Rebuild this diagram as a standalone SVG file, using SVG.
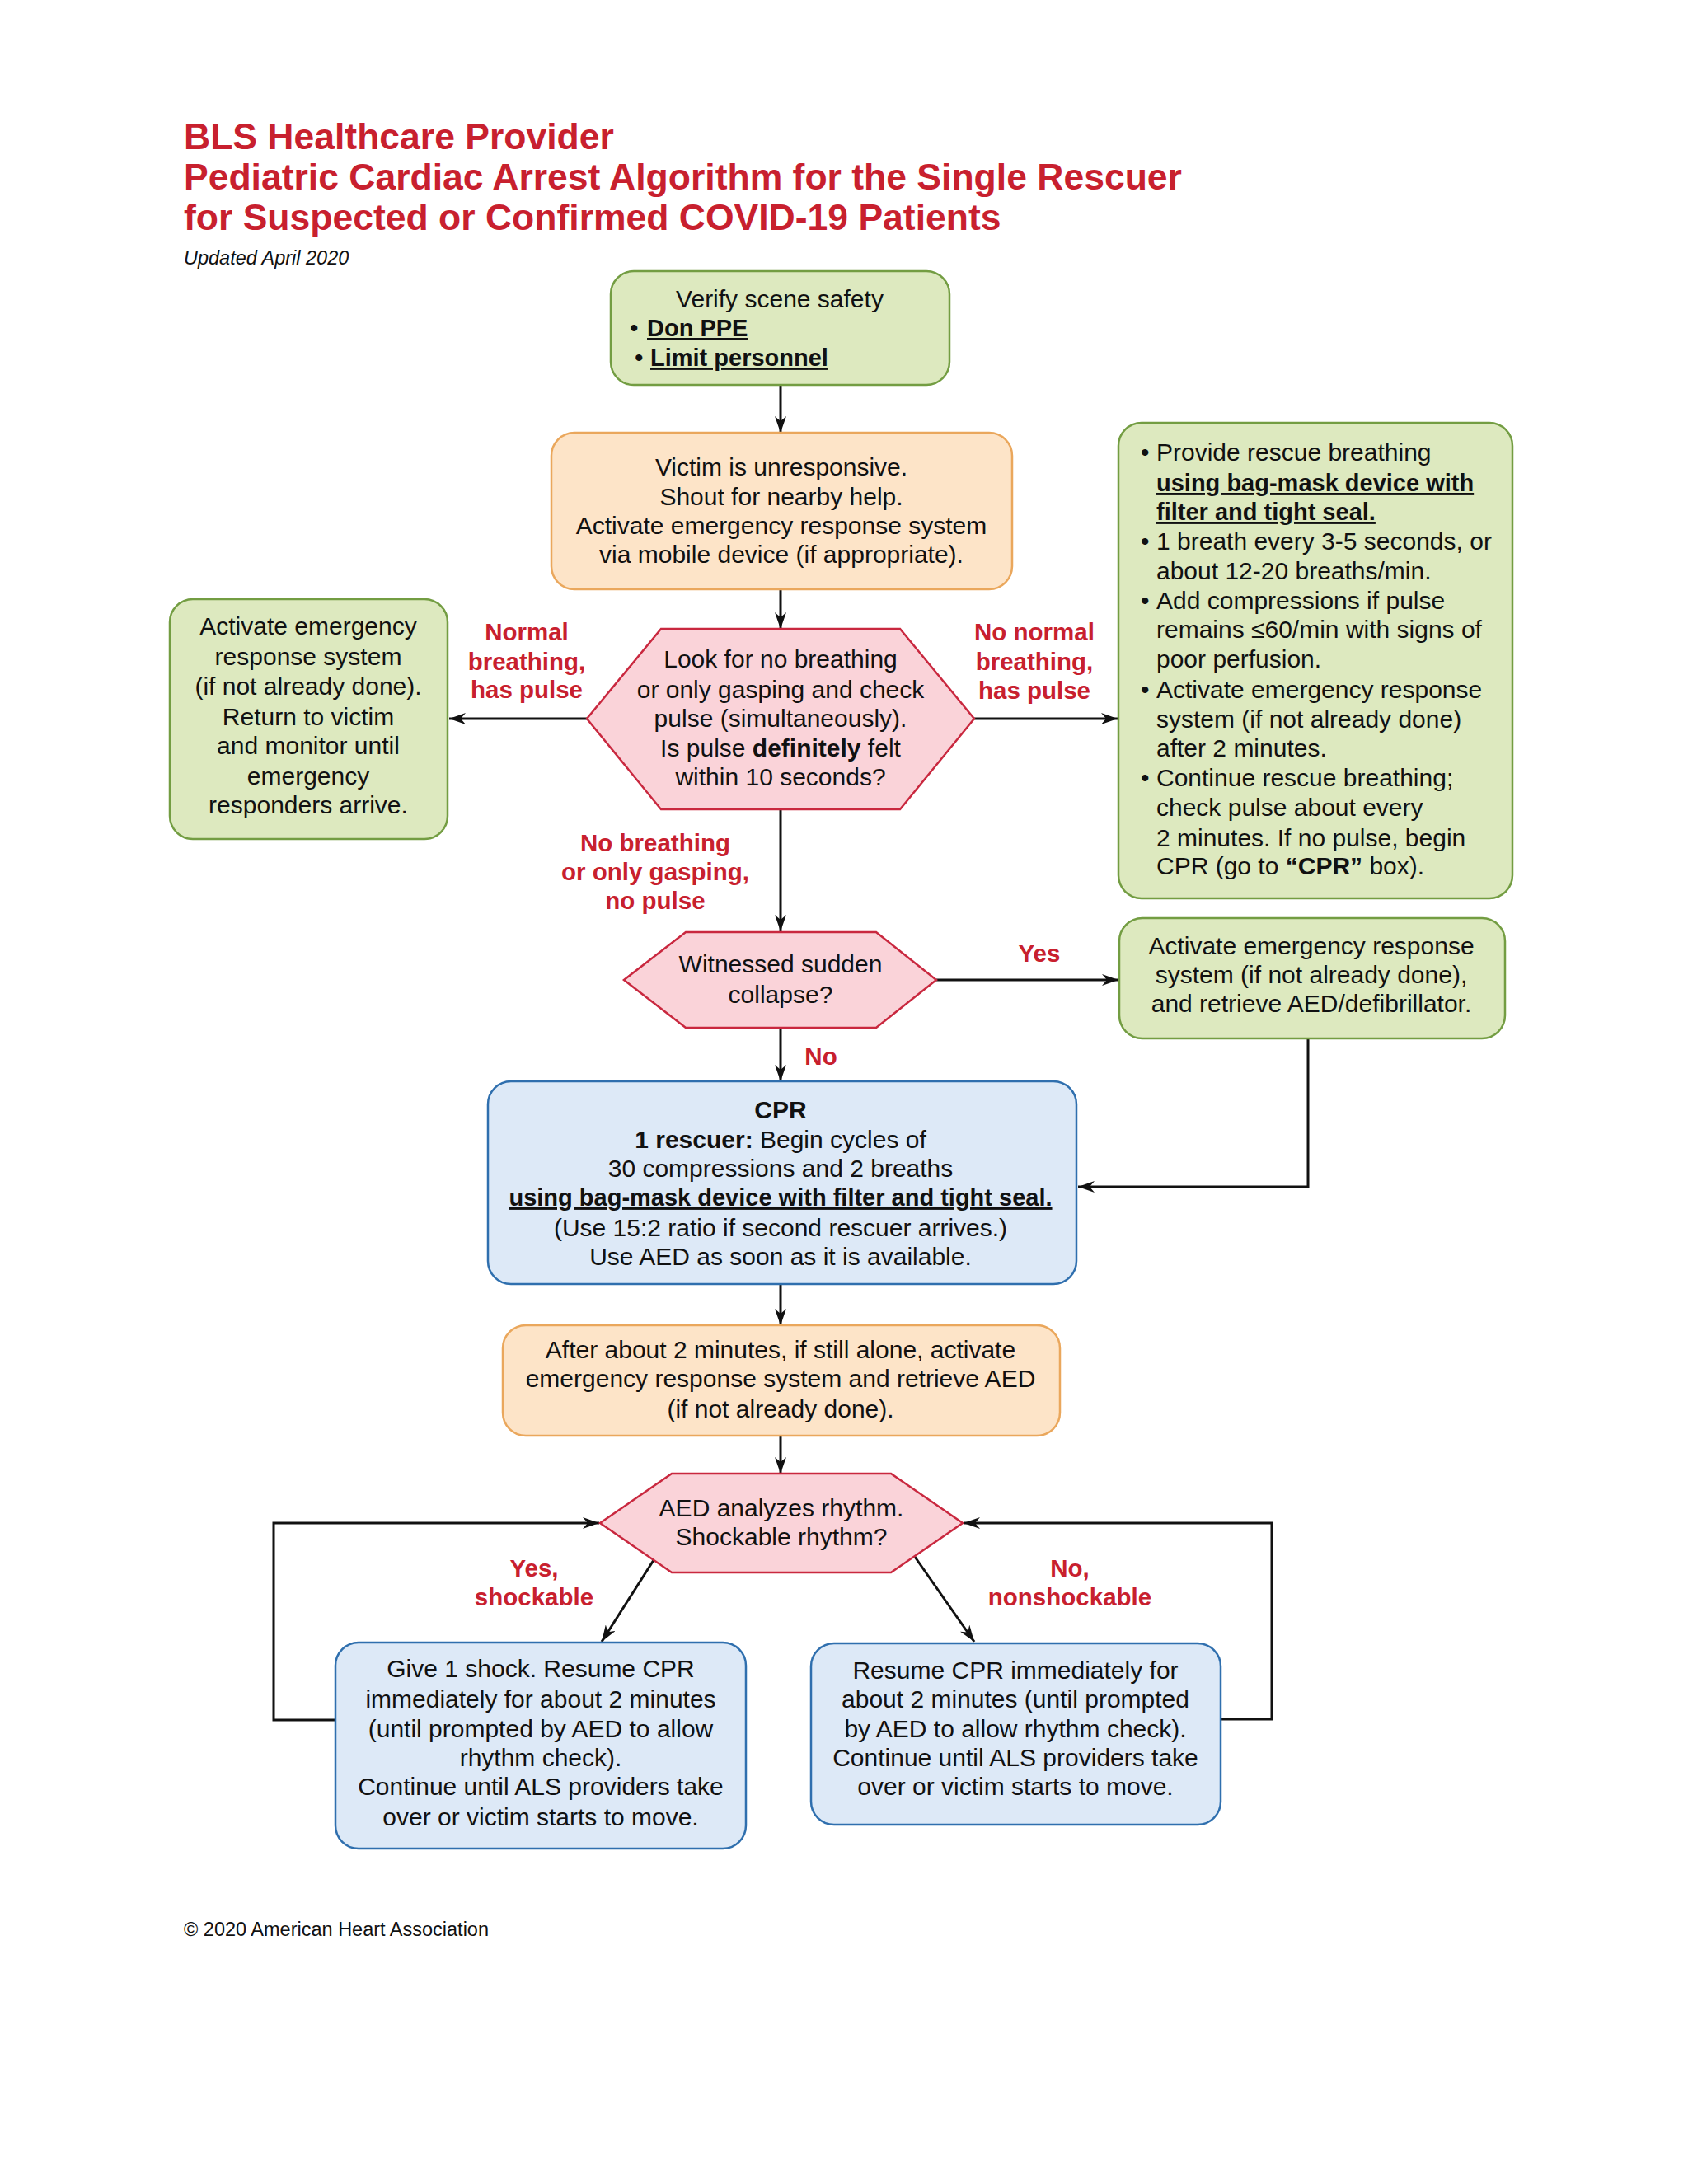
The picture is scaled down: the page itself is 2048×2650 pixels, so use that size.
<svg xmlns="http://www.w3.org/2000/svg" width="2048" height="2650" viewBox="0 0 2048 2650">
<defs>
<style>
text{font-family:"Liberation Sans",Arial,sans-serif;fill:#111;}
.t{font-size:30px;text-anchor:middle;}
.l{font-size:30px;}
.b{font-weight:bold;}
.u{text-decoration:underline;}
.title{font-size:44.5px;font-weight:bold;fill:#c8202e;}
.lab{font-size:29.5px;font-weight:bold;fill:#c8202e;text-anchor:middle;}
.green{fill:#dde9bf;stroke:#739d42;stroke-width:2.5;}
.orange{fill:#fde4c8;stroke:#eaa75c;stroke-width:2.5;}
.pink{fill:#fad3d9;stroke:#c9283f;stroke-width:2.5;}
.blue{fill:#dde9f7;stroke:#2f6fae;stroke-width:2.5;}
.c{fill:none;stroke:#111;stroke-width:3;marker-end:url(#ah);}
</style>
<marker id="ah" viewBox="0 0 20 14" refX="20" refY="7" markerWidth="20" markerHeight="14" markerUnits="userSpaceOnUse" orient="auto">
<path d="M0,0 L20,7 L0,14 L6,7 Z" fill="#111"/>
</marker>
</defs>
<rect width="2048" height="2650" fill="#ffffff"/>

<g id="title">
<text class="title" x="223" y="181">BLS Healthcare Provider</text>
<text class="title" x="223" y="230">Pediatric Cardiac Arrest Algorithm for the Single Rescuer</text>
<text class="title" x="223" y="279">for Suspected or Confirmed COVID-19 Patients</text>
<text x="223" y="321" style="font-size:23.5px;font-style:italic">Updated April 2020</text>
</g>

<g id="connectors">
<path class="c" d="M947,467 V525"/>
<path class="c" d="M947,715 V763"/>
<path class="c" d="M712,872 H545"/>
<path class="c" d="M1182,872 H1356"/>
<path class="c" d="M947,983 V1130"/>
<path class="c" d="M1136,1189 H1357"/>
<path class="c" d="M947,1247 V1312"/>
<path class="c" d="M1587,1260 V1440 H1308"/>
<path class="c" d="M947,1558 V1608"/>
<path class="c" d="M947,1742 V1788"/>
<path class="c" d="M793,1893 L730,1992"/>
<path class="c" d="M1110,1889 L1182,1992"/>
<path class="c" d="M407,2087 H332 V1848 H727"/>
<path class="c" d="M1481,2086 H1543 V1848 H1169"/>
<text class="lab" x="639" y="777">Normal</text>
<text class="lab" x="639" y="813">breathing,</text>
<text class="lab" x="639" y="847">has pulse</text>
<text class="lab" x="1255" y="777">No normal</text>
<text class="lab" x="1255" y="813">breathing,</text>
<text class="lab" x="1255" y="848">has pulse</text>
<text class="lab" x="795" y="1033">No breathing</text>
<text class="lab" x="795" y="1068">or only gasping,</text>
<text class="lab" x="795" y="1103">no pulse</text>
<text class="lab" x="1261" y="1167">Yes</text>
<text class="lab" x="996" y="1292">No</text>
<text class="lab" x="648" y="1913">Yes,</text>
<text class="lab" x="648" y="1948">shockable</text>
<text class="lab" x="1298" y="1913">No,</text>
<text class="lab" x="1298" y="1948">nonshockable</text>
</g>

<g id="n-verify">
<rect class="green" x="741" y="329" width="411" height="138" rx="28"/>
<text class="t" x="946" y="373">Verify scene safety</text>
<text class="l" x="764" y="408">•</text>
<text class="l b u" x="785" y="408" style="font-size:29px">Don PPE</text>
<text class="l" x="770" y="444">•</text>
<text class="l b u" x="789" y="444" style="font-size:29px">Limit personnel</text>
</g>

<g id="n-unresponsive">
<rect class="orange" x="669" y="525" width="559" height="190" rx="28"/>
<text class="t" x="948" y="577">Victim is unresponsive.</text>
<text class="t" x="948" y="613">Shout for nearby help.</text>
<text class="t" x="948" y="648">Activate emergency response system</text>
<text class="t" x="948" y="683">via mobile device (if appropriate).</text>
</g>

<g id="n-look">
<polygon class="pink" points="712,872 802,763 1092,763 1182,872 1092,982 802,982"/>
<text class="t" x="947" y="810">Look for no breathing</text>
<text class="t" x="947" y="847">or only gasping and check</text>
<text class="t" x="947" y="882">pulse (simultaneously).</text>
<text class="t" x="947" y="918">Is pulse <tspan class="b">definitely</tspan> felt</text>
<text class="t" x="947" y="953">within 10 seconds?</text>
</g>

<g id="n-monitor">
<rect class="green" x="206" y="727" width="337" height="291" rx="28"/>
<text class="t" x="374" y="770">Activate emergency</text>
<text class="t" x="374" y="807">response system</text>
<text class="t" x="374" y="843">(if not already done).</text>
<text class="t" x="374" y="880">Return to victim</text>
<text class="t" x="374" y="915">and monitor until</text>
<text class="t" x="374" y="952">emergency</text>
<text class="t" x="374" y="987">responders arrive.</text>
</g>

<g id="n-rescue-breathing">
<rect class="green" x="1357" y="513" width="478" height="577" rx="28"/>
<text class="l" x="1384" y="559">•</text>
<text class="l" x="1403" y="559">Provide rescue breathing</text>
<text class="l b u" x="1403" y="596" style="font-size:29px">using bag-mask device with</text>
<text class="l b u" x="1403" y="631" style="font-size:29px">filter and tight seal.</text>
<text class="l" x="1384" y="667">•</text>
<text class="l" x="1403" y="667">1 breath every 3-5 seconds, or</text>
<text class="l" x="1403" y="703">about 12-20 breaths/min.</text>
<text class="l" x="1384" y="739">•</text>
<text class="l" x="1403" y="739">Add compressions if pulse</text>
<text class="l" x="1403" y="774">remains ≤60/min with signs of</text>
<text class="l" x="1403" y="810">poor perfusion.</text>
<text class="l" x="1384" y="847">•</text>
<text class="l" x="1403" y="847">Activate emergency response</text>
<text class="l" x="1403" y="883">system (if not already done)</text>
<text class="l" x="1403" y="918">after 2 minutes.</text>
<text class="l" x="1384" y="954">•</text>
<text class="l" x="1403" y="954">Continue rescue breathing;</text>
<text class="l" x="1403" y="990">check pulse about every</text>
<text class="l" x="1403" y="1027">2 minutes. If no pulse, begin</text>
<text class="l" x="1403" y="1061">CPR (go to <tspan class="b">“CPR”</tspan> box).</text>
</g>

<g id="n-witnessed">
<polygon class="pink" points="757,1189 832,1131 1063,1131 1136,1189 1063,1247 832,1247"/>
<text class="t" x="947" y="1180">Witnessed sudden</text>
<text class="t" x="947" y="1217">collapse?</text>
</g>

<g id="n-activate-aed">
<rect class="green" x="1358" y="1114" width="468" height="146" rx="28"/>
<text class="t" x="1591" y="1158">Activate emergency response</text>
<text class="t" x="1591" y="1193">system (if not already done),</text>
<text class="t" x="1591" y="1228">and retrieve AED/defibrillator.</text>
</g>

<g id="n-cpr">
<rect class="blue" x="592" y="1312" width="714" height="246" rx="28"/>
<text class="t b" x="947" y="1357">CPR</text>
<text class="t" x="947" y="1393"><tspan class="b">1 rescuer:</tspan> Begin cycles of</text>
<text class="t" x="947" y="1428">30 compressions and 2 breaths</text>
<text class="t b u" x="947" y="1463" style="font-size:29px">using bag-mask device with filter and tight seal.</text>
<text class="t" x="947" y="1500">(Use 15:2 ratio if second rescuer arrives.)</text>
<text class="t" x="947" y="1535">Use AED as soon as it is available.</text>
</g>

<g id="n-after">
<rect class="orange" x="610" y="1608" width="676" height="134" rx="28"/>
<text class="t" x="947" y="1648">After about 2 minutes, if still alone, activate</text>
<text class="t" x="947" y="1683">emergency response system and retrieve AED</text>
<text class="t" x="947" y="1720">(if not already done).</text>
</g>

<g id="n-aed">
<polygon class="pink" points="728,1848 815,1788 1081,1788 1168,1848 1081,1908 815,1908"/>
<text class="t" x="948" y="1840">AED analyzes rhythm.</text>
<text class="t" x="948" y="1875">Shockable rhythm?</text>
</g>

<g id="n-shock">
<rect class="blue" x="407" y="1993" width="498" height="250" rx="28"/>
<text class="t" x="656" y="2035">Give 1 shock. Resume CPR</text>
<text class="t" x="656" y="2072">immediately for about 2 minutes</text>
<text class="t" x="656" y="2108">(until prompted by AED to allow</text>
<text class="t" x="656" y="2143">rhythm check).</text>
<text class="t" x="656" y="2178">Continue until ALS providers take</text>
<text class="t" x="656" y="2215">over or victim starts to move.</text>
</g>

<g id="n-noshock">
<rect class="blue" x="984" y="1994" width="497" height="220" rx="28"/>
<text class="t" x="1232" y="2037">Resume CPR immediately for</text>
<text class="t" x="1232" y="2072">about 2 minutes (until prompted</text>
<text class="t" x="1232" y="2108">by AED to allow rhythm check).</text>
<text class="t" x="1232" y="2143">Continue until ALS providers take</text>
<text class="t" x="1232" y="2178">over or victim starts to move.</text>
</g>

<g id="footer">
<text x="223" y="2349" style="font-size:23.5px">© 2020 American Heart Association</text>
</g>
</svg>
